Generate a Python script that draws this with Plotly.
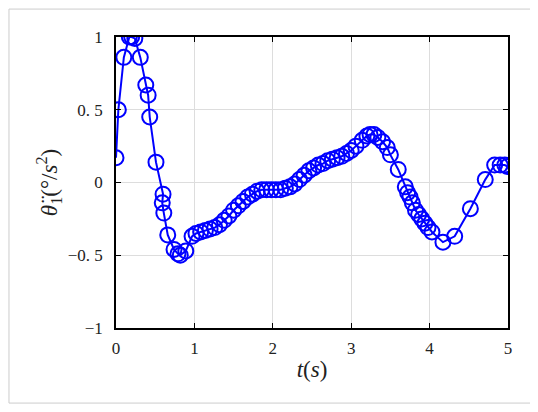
import plotly.graph_objects as go

t = [0.0, 0.03, 0.10, 0.17, 0.20, 0.24, 0.31, 0.38, 0.41, 0.43, 0.51, 0.60, 0.59, 0.61, 0.66, 0.74, 0.79, 0.82, 0.89,
     0.97, 1.02, 1.08, 1.14, 1.20, 1.26, 1.32, 1.38, 1.44, 1.50, 1.56, 1.62, 1.68, 1.74, 1.80, 1.86, 1.92, 1.98, 2.04,
     2.10, 2.16, 2.22, 2.28, 2.34, 2.40, 2.46, 2.52, 2.58, 2.64, 2.70, 2.76, 2.82, 2.88, 2.94, 3.00, 3.06, 3.14, 3.20,
     3.24, 3.29, 3.34, 3.40, 3.46, 3.50, 3.60, 3.69, 3.72, 3.75, 3.78, 3.82, 3.86, 3.90, 3.94, 3.98, 4.03, 4.17, 4.32,
     4.52, 4.71, 4.83, 4.90, 4.96, 4.99]
acc = [0.17, 0.50, 0.86, 1.00, 1.00, 0.99, 0.86, 0.67, 0.60, 0.45, 0.14, -0.08, -0.14, -0.21, -0.36, -0.46, -0.49, -0.50, -0.47,
       -0.37, -0.35, -0.34, -0.33, -0.32, -0.31, -0.29, -0.26, -0.23, -0.19, -0.16, -0.13, -0.10, -0.08, -0.06, -0.05, -0.05, -0.05, -0.05,
       -0.05, -0.04, -0.03, -0.01, 0.02, 0.05, 0.08, 0.10, 0.12, 0.13, 0.15, 0.16, 0.17, 0.18, 0.20, 0.22, 0.25, 0.29, 0.32,
       0.33, 0.33, 0.31, 0.28, 0.24, 0.19, 0.09, -0.03, -0.07, -0.10, -0.14, -0.19, -0.22, -0.25, -0.28, -0.31, -0.34, -0.41, -0.37,
       -0.18, 0.02, 0.12, 0.12, 0.12, 0.11]

xticks = [0, 1, 2, 3, 4, 5]
yticks = [-1, -0.5, 0, 0.5, 1]
ylabels = ["−1", "−0. 5", "0", "0. 5", "1"]

font = "Liberation Serif"
fig = go.Figure(go.Scatter(x=t, y=acc, mode="lines+markers",
                           line=dict(color="#0000ff", width=2),
                           marker=dict(symbol="circle-open", size=15, color="#0000ff", line=dict(width=2))))
ax = dict(showline=True, linecolor="black", linewidth=1.5, mirror="ticks", ticks="inside", ticklen=5,
          tickcolor="black", showgrid=True, gridcolor="#dddddd", zeroline=False, automargin=False,
          tickfont=dict(family=font, size=17, color="#222"))
fig.update_xaxes(range=[0, 5], tickvals=xticks, ticklabelstandoff=4,
                 title=dict(text="<i>t</i>(<i>s</i>)", font=dict(family=font, size=23, color="#222"), standoff=4), **ax)
fig.update_yaxes(range=[-1, 1], tickvals=yticks, ticktext=ylabels, ticklabelstandoff=8,
                 title=dict(text="<i>θ̈</i><sub>1</sub>(°/<i>s</i><sup>2</sup>)", font=dict(family=font, size=23, color="#222"), standoff=4), **ax)
fig.add_shape(type="rect", xref="paper", yref="paper", x0=-0.273, x1=1.071, y0=-0.258, y1=1.096,
              line=dict(color="#cccccc", width=1))
fig.update_layout(width=522, height=396, margin=dict(l=108, r=22, t=29, b=76),
                  font=dict(family=font), paper_bgcolor="white", plot_bgcolor="white", showlegend=False)
fig.write_html("out.html")
